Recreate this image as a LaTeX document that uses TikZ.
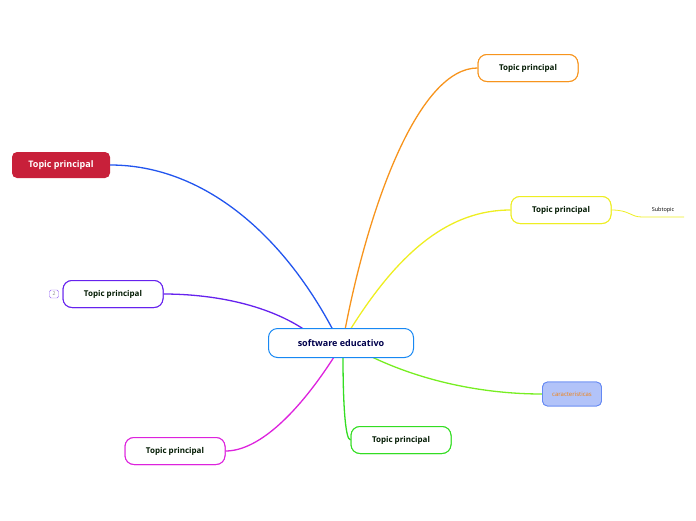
\documentclass[tikz,border=0pt]{standalone}
\usepackage{fontspec}
\setmainfont{Open Sans}
\begin{document}
\begin{tikzpicture}[x=1pt,y=-1pt,
  topic/.style={draw=#1,line width=1pt,rounded corners=9pt,minimum width=100pt,minimum height=27pt,fill=white,font=\fontsize{8}{10}\selectfont\bfseries,text=black!75!green!40!black},
  link/.style={draw=#1,line width=1.3pt}]
\useasboundingbox (0,0) rectangle (696,520);
\definecolor{cblue}{HTML}{2255EE}
\definecolor{corange}{HTML}{F7941D}
\definecolor{cyellow}{HTML}{EEEE22}
\definecolor{cgreen}{HTML}{77EE22}
\definecolor{cgreen2}{HTML}{33DD22}
\definecolor{cmag}{HTML}{DD22DD}
\definecolor{cpurp}{HTML}{6622EE}
\definecolor{cred}{HTML}{C8203A}
% connectors
\coordinate (o1) at (333,330);
\node[topic=corange] (or) at (528,68) {Topic principal};
\node[topic=cyellow] (ye) at (561,210) {Topic principal};
\node[draw=cblue!70,fill=cblue!35,line width=0.8pt,rounded corners=5pt,minimum width=59pt,minimum height=24pt,font=\fontsize{6}{7}\selectfont,text=orange!80!brown] (ca) at (572,394) {caracteristicas};
\node[topic=cgreen2] (gr) at (401,440) {Topic principal};
\node[topic=cmag] (ma) at (175,451) {Topic principal};
\node[topic=cpurp] (pu) at (113,294) {Topic principal};
\node[draw=cpurp!70,rounded corners=1.5pt,inner sep=1pt,minimum width=9pt,minimum height=8pt,font=\fontsize{5}{6}\selectfont,text=gray] (b2) at (54,294) {2};
\node[fill=cred,rounded corners=5pt,minimum width=98pt,minimum height=26pt,font=\fontsize{9}{11}\selectfont\bfseries,text=white] (re) at (61,165) {Topic principal};
\node[font=\fontsize{5.5}{7}\selectfont] (st) at (663,210) {Subtopic};
\coordinate (se) at (684,217);
\begin{scope}[on background layer/.style={}]
\draw[link=cblue] (333,330) .. controls (280,230) and (200,165) .. (re.east);
\draw[link=corange] (345,330) .. controls (370,200) and (420,68) .. (or.west);
\draw[link=cyellow] (350,330) .. controls (400,250) and (450,210) .. (ye.west);
\draw[link=cgreen] (372,357) .. controls (420,380) and (480,394) .. (ca.west);
\draw[link=cgreen2] (343,357) .. controls (343,400) and (345,440) .. (gr.west);
\draw[link=cmag] (334,357) .. controls (300,410) and (260,451) .. (ma.east);
\draw[link=cpurp] (305,330) .. controls (260,300) and (200,294) .. (pu.east);
\draw[draw=cyellow,line width=0.8pt] (ye.east) .. controls (630,210) and (630,217) .. (642,217) -- (se);
\end{scope}
\node[topic=cblue!70!cyan,minimum width=145pt,minimum height=29pt,font=\fontsize{9}{11}\selectfont\bfseries,text=blue!30!black] (c) at (341,343) {software educativo};
\node[topic=corange] at (528,68) {Topic principal};
\node[topic=cyellow] at (561,210) {Topic principal};
\node[draw=cblue!70,fill=cblue!35,line width=0.8pt,rounded corners=5pt,minimum width=59pt,minimum height=24pt,font=\fontsize{6}{7}\selectfont,text=orange!80!brown] at (572,394) {caracteristicas};
\node[topic=cgreen2] at (401,440) {Topic principal};
\node[topic=cmag] at (175,451) {Topic principal};
\node[topic=cpurp] at (113,294) {Topic principal};
\end{tikzpicture}
\end{document}
